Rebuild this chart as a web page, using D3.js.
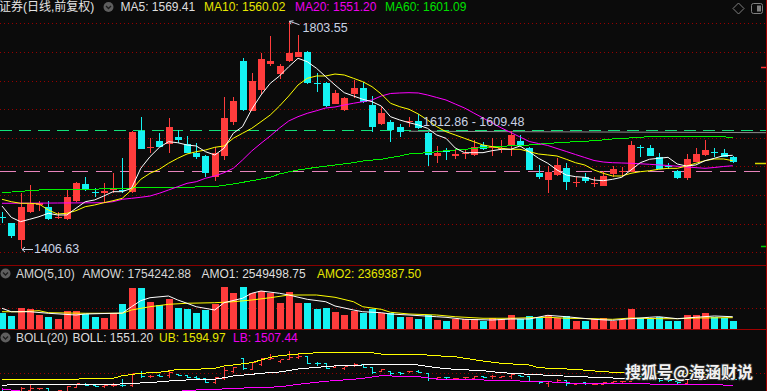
<!DOCTYPE html>
<html>
<head>
<meta charset="utf-8">
<script src="https://cdn.jsdelivr.net/npm/d3@7"></script>
<style>
  body { margin: 0; background: #0b0b0b; overflow: hidden; }
  svg { display: block; font-family: "Liberation Sans", Arial, "Noto Sans CJK SC", sans-serif; }
</style>
</head>
<body>
<svg id="chart"></svg>
<script>
//Daily candles
var opens = [1461.7,1451.7,1422.7,1469.2,1481.4,1479.7,1461.7,1458.2,1490.1,1519.3,
  1504.5,1503.6,1508.0,1508.8,1504.8,1612.4,1582.2,1594.9,1590.4,1600.9,
  1589.2,1572.9,1568.2,1532.1,1567.0,1628.1,1734.7,1647.3,1683.5,1728.9,
  1710.9,1732.9,1741.7,1750.4,1695.7,1696.2,1660.3,1648.6,1677.7,1686.5,
  1657.3,1624.1,1628.1,1619.4,1626.7,1629.9,1607.9,1568.2,1576.4,1567.0,
  1572.9,1570.0,1587.4,1581.7,1580.4,1585.7,1594.4,1581.7,1539.0,1526.3,
  1535.0,1546.7,1521.1,1531.0,1518.4,1516.3,1536.8,1540.3,1540.8,1583.9,
  1581.7,1567.0,1551.3,1542.5,1529.3,1558.3,1570.0,1574.7,1574.0,1565.9];
var highs = [1470.9,1452.0,1503.1,1517.6,1489.6,1489.6,1470.9,1508.8,1522.0,1531.0,
  1512.8,1520.5,1538.0,1564.2,1611.9,1636.9,1599.1,1607.9,1634.1,1613.6,
  1603.1,1590.4,1570.0,1584.5,1670.7,1671.8,1739.9,1712.7,1747.6,1777.8,
  1728.9,1803.55,1779.6,1751.6,1713.7,1698.0,1683.5,1671.2,1701.0,1698.0,
  1673.0,1654.3,1631.1,1624.1,1636.9,1641.1,1610.1,1585.7,1581.7,1578.7,
  1578.7,1596.2,1593.2,1599.1,1596.2,1611.9,1604.9,1583.9,1552.5,1550.7,
  1564.2,1556.5,1531.0,1539.0,1532.1,1542.5,1550.7,1549.5,1594.4,1587.4,
  1587.4,1572.9,1556.5,1543.8,1571.7,1581.7,1596.2,1581.7,1579.9,1568.2];
var lows = [1450.7,1424.5,1406.63,1468.0,1472.7,1456.4,1457.7,1457.0,1488.4,1507.6,
  1496.1,1488.4,1504.1,1503.1,1503.6,1580.4,1572.9,1583.9,1574.0,1590.4,
  1573.5,1562.5,1531.0,1525.1,1561.2,1622.4,1647.3,1646.8,1676.5,1725.4,
  1702.2,1732.4,1740.6,1693.5,1680.5,1653.3,1659.0,1647.5,1669.0,1660.3,
  1610.7,1623.0,1593.2,1600.9,1618.3,1614.9,1550.7,1556.5,1561.2,1562.5,
  1562.5,1569.0,1578.7,1568.2,1574.0,1568.2,1585.7,1543.0,1527.5,1504.1,
  1534.0,1508.8,1514.6,1520.5,1514.6,1515.8,1532.1,1531.0,1540.3,1567.0,
  1567.5,1546.4,1545.0,1528.0,1526.3,1557.7,1568.2,1567.0,1566.5,1556.0];
var closes = [1460.8,1428.5,1479.7,1483.9,1485.6,1459.4,1462.5,1496.1,1521.6,1510.0,
  1503.6,1507.1,1509.7,1507.1,1609.6,1581.7,1583.9,1584.5,1619.4,1594.9,
  1574.0,1565.9,1538.0,1574.0,1634.1,1664.3,1649.8,1699.7,1737.6,1734.7,
  1725.4,1747.6,1750.4,1696.2,1694.5,1655.5,1678.8,1670.0,1687.5,1661.3,
  1618.3,1643.3,1613.6,1610.7,1628.5,1618.3,1570.0,1574.0,1575.2,1571.2,
  1574.0,1584.5,1579.9,1585.7,1582.2,1604.9,1587.4,1543.8,1532.1,1540.8,
  1552.5,1521.6,1522.8,1523.3,1520.2,1533.3,1545.0,1541.5,1587.4,1582.7,
  1568.2,1546.7,1550.2,1531.0,1562.5,1571.7,1578.7,1573.5,1567.0,1556.5];
//Turnover, thousands
var volumes = [3322,2746,4282,3974,2880,2554,2112,3648,3648,3014,
  2554,2362,3322,4992,8122,8122,5434,4800,5952,4282,
  4032,3322,3840,4992,8314,7162,8314,7162,7546,7046,
  5242,7354,5242,5242,4032,4282,3514,2880,3648,3206,
  3974,3206,3206,2554,2554,2112,2880,1920,1728,2112,
  2112,2112,1728,2246,2054,2880,2054,2688,2246,2880,
  2246,2688,1728,1728,2054,2246,1728,1920,4032,2246,
  2054,2438,1728,1728,2880,2880,3322,2554,2246,1728];

//Moving averages
var ma5 = [1480.9,1461.1,1453.5,1457.7,1462.2,1468.1,1465.2,1465.2,1476.9,1488.4,
  1491.4,1498.3,1505.9,1505.9,1511.8,1546.7,1567.0,1583.1,1593.2,1591.4,
  1587.4,1585.7,1575.7,1570.0,1581.7,1607.9,1619.4,1649.8,1674.8,1695.2,
  1708.0,1724.2,1738.9,1732.9,1721.4,1706.7,1692.2,1678.8,1673.0,1667.3,
  1663.1,1655.5,1636.9,1631.1,1626.4,1622.4,1616.6,1604.9,1599.1,1582.2,
  1574.0,1574.0,1574.0,1577.5,1579.9,1579.9,1585.7,1575.7,1564.2,1555.5,
  1543.8,1535.0,1532.1,1531.0,1526.3,1525.1,1527.5,1531.0,1543.8,1556.5,
  1562.5,1564.2,1565.9,1554.2,1550.7,1552.5,1560.0,1564.2,1568.7,1569.41];
var ma10 = [1492.6,1488.4,1485.6,1485.6,1484.4,1473.9,1466.9,1468.1,1472.7,1479.7,
  1482.6,1486.6,1490.1,1494.3,1508.8,1527.5,1538.0,1545.0,1555.5,1564.2,
  1571.7,1575.7,1578.7,1583.4,1585.7,1599.1,1607.9,1616.6,1628.1,1639.8,
  1655.5,1673.0,1692.2,1703.9,1708.0,1708.0,1711.4,1709.7,1703.9,1698.0,
  1689.3,1676.5,1660.3,1654.3,1649.8,1641.6,1631.1,1619.4,1610.7,1604.9,
  1599.1,1593.2,1587.4,1584.5,1581.7,1579.9,1579.9,1575.7,1571.7,1570.0,
  1568.2,1562.5,1556.5,1552.5,1543.8,1538.0,1533.3,1533.3,1538.0,1540.8,
  1542.5,1545.0,1546.7,1546.7,1550.7,1555.5,1560.0,1563.0,1563.0,1560.02];
//[day index, value]
var ma20 = [[0,1485.6],[6,1486.1],[11,1486.6],[12,1488.4],[13,1492.6],[14,1494.3],[15,1496.1],[16,1498.3],
  [17,1503.1],[18,1508.8],[19,1514.6],[20,1520.5],[21,1523.3],[22,1529.3],[23,1533.3],[24,1539.0],
  [25,1546.7],[26,1561.2],[27,1577.0],[28,1590.4],[29,1603.2],[30,1617.1],[31,1629.4],[32,1636.9],
  [33,1642.8],[34,1647.3],[35,1652.1],[36,1653.8],[37,1657.3],[38,1660.3],[39,1663.1],[40,1666.0],
  [41,1673.0],[42,1677.4],[43,1678.3],[44,1678.8],[45,1678.3],[46,1674.8],[47,1670.4],[48,1666.0],
  [49,1659.0],[50,1652.1],[51,1643.3],[52,1634.6],[53,1625.9],[54,1617.1],[55,1609.3],[56,1601.4],
  [57,1593.5],[58,1590.0],[59,1586.6],[60,1581.3],[61,1576.1],[62,1570.8],[63,1565.6],[64,1560.4],
  [65,1557.7],[66,1556.5],[67,1556.0],[68,1555.5],[70,1553.7],[72,1551.6],[74,1549.1],[76,1546.7],
  [77,1548.1],[78,1549.9],[79,1551.20]];
var ma60 = [[0,1504.1],[5,1510.0],[11,1510.6],[12,1511.8],[23,1514.6],[25,1519.3],[27,1525.0],[29,1531.0],
  [30,1537.0],[32,1543.8],[34,1548.5],[36,1552.5],[38,1556.5],[39,1559.5],[41,1562.5],[43,1568.2],
  [44,1571.7],[46,1574.0],[48,1577.5],[50,1579.9],[53,1584.5],[57,1587.4],[60,1591.4],[62,1593.2],
  [64,1594.9],[66,1597.9],[69,1600.9],[71,1603.1],[77,1601.9],[79,1601.09]];

//Turnover averages, thousands
var amo1 = [[0,4170],[1,3510],[3,3510],[5,3210],[8,2880],[9,3070],[12,3210],[13,3250],[14,4470],[15,5630],
  [16,6200],[18,6530],[19,5760],[20,5130],[21,4470],[23,3840],[24,5240],[26,6090],[27,7050],[28,7490],
  [30,7050],[31,6720],[33,5890],[35,5430],[36,4610],[38,3840],[39,3510],[41,3320],[42,3070],[44,2880],
  [47,2550],[48,2440],[50,2050],[53,1920],[55,2110],[57,2110],[59,2820],[61,2550],[64,2050],[66,1860],
  [68,2170],[70,2440],[71,2550],[73,2170],[75,2440],[77,2690],[79,2549]];
var amo2 = [[0,3510],[2,3510],[4,3710],[5,3320],[9,3210],[13,3210],[14,3840],[16,4470],[18,4930],[20,5130],
  [23,5240],[25,5430],[27,5760],[29,6200],[31,6720],[34,6720],[36,6280],[38,5430],[39,4470],[41,3970],
  [42,3400],[44,3070],[47,2880],[49,2550],[52,2250],[55,2250],[59,2440],[61,2250],[64,2170],[66,2050],
  [68,2300],[71,2170],[73,2170],[75,2300],[79,2369]];

//Bollinger bands
var bollUp = [[0,1557],[8,1557],[9,1565],[12,1565],[13,1587],[15,1608],[17,1616],[18,1627],[19,1642],[21,1642],
  [23,1650],[24,1670],[25,1678],[27,1698],[28,1720],[29,1743],[30,1757],[32,1771],[33,1777],[35,1786],
  [40,1782],[41,1771],[43,1763],[45,1769],[47,1756],[49,1748],[50,1735],[52,1712],[54,1692],[57,1678],
  [58,1655],[62,1641],[65,1621],[67,1613],[79,1594.97]];
var bollMid = [[0,1508],[13,1517],[14,1523],[16,1528],[17,1536],[18,1542],[20,1551],[23,1557],[24,1570],[25,1585],
  [27,1599],[28,1608],[30,1619],[31,1630],[32,1644],[34,1658],[36,1670],[39,1678],[42,1684],[45,1678],
  [47,1655],[49,1641],[52,1630],[54,1613],[57,1599],[60,1587],[64,1574],[67,1565],[79,1551.20]];
var bollLow = [[0,1475],[4,1440],[12,1430],[18,1450],[21,1466],[24,1475],[25,1481],[28,1486],[30,1494],[31,1503],
  [32,1514],[33,1523],[34,1531],[35,1540],[38,1557],[39,1565],[41,1587],[45,1579],[47,1559],[52,1551],
  [59,1536],[62,1523],[66,1523],[72,1514],[79,1507.44]];

//Reference levels and labels
var priceGrid = [1400, 1450, 1500, 1550, 1600, 1650, 1700, 1750, 1800];
var levelGreen = 1612.86, levelPink = 1541.5, rangeEnd = 1609.48;
var volGrid = 4280, bollGrid = 1607.6;
var edgeMarks = [1723.1, 1555.5, 1410.5];
var titleText = "证券(日线,前复权)";
var amoLabels = ["AMO(5,10)", "AMOW: 1754242.88", "AMO1: 2549498.75", "AMO2: 2369387.50"];
var bollLabels = ["BOLL(20)", "BOLL: 1551.20", "UB: 1594.97", "LB: 1507.44"];
var watermark = "搜狐号@海涵财说";

var RED = "#ff3c3c", CYAN = "#14f2f2", GRID = "#960000";

var W = 767, H = 391;
var svg = d3.select("#chart").attr("width", W).attr("height", H);
svg.append("rect").attr("width", W).attr("height", H).attr("fill", "#0b0b0b");

//Scales
var x = d3.scaleLinear().domain([0, 79]).range([2, 732.75]);
var yPrice = d3.scaleLinear().domain([1400, 1800]).range([252.3, 23.3]);
var yVol = d3.scaleLinear().domain([0, 12480]).range([330, 265]);
var yBoll = d3.scaleLinear().domain([1400, 1800]).range([397.8, 350.6]);

var candles = opens.map(function(o, i) {
  return {i: i, o: o, h: highs[i], l: lows[i], c: closes[i], v: volumes[i]};
});
function col(d) { return d.c >= d.o ? RED : CYAN; }
function cx(d) { return Math.round(x(d.i)) + 0.5; }
function px(v) { return Math.round(v) + 0.5; }

//Gridlines
function hLine(g, yv, color, dash, x1) {
  g.append("line").attr("x1", x1 || 0).attr("x2", 766).attr("y1", px(yv)).attr("y2", px(yv))
    .attr("stroke", color).attr("stroke-dasharray", dash).attr("shape-rendering", "crispEdges");
}
var grid = svg.append("g");
priceGrid.forEach(function(p) { hLine(grid, yPrice(p), GRID, "1,3"); });
hLine(grid, yVol(volGrid), GRID, "1,3");
hLine(grid, yBoll(bollGrid), GRID, "1,3");

//Panel borders
var borders = svg.append("g").attr("shape-rendering", "crispEdges");
borders.append("line").attr("x1", 0).attr("x2", 767).attr("y1", 265.5).attr("y2", 265.5).attr("stroke", "#8a0000");
borders.append("line").attr("x1", 766.5).attr("x2", 766.5).attr("y1", 0).attr("y2", H).attr("stroke", "#a00000");

//Level lines
svg.append("line")
  .attr("x1", x(44)).attr("x2", 766)
  .attr("y1", yPrice(levelGreen) + 0.8).attr("y2", yPrice(rangeEnd) + 0.3)
  .attr("stroke", "#8c8c8c");
hLine(svg, yPrice(levelGreen), "#12e27a", "12,7");
hLine(svg, yPrice(levelPink), "#e884bc", "16,8");

//Candles
var gC = svg.append("g").attr("shape-rendering", "crispEdges");
gC.selectAll("line").data(candles).enter().append("line")
  .attr("x1", cx).attr("x2", cx)
  .attr("y1", function(d) { return yPrice(d.h); })
  .attr("y2", function(d) { return yPrice(d.l); })
  .attr("stroke", col);
gC.selectAll("rect").data(candles).enter().append("rect")
  .attr("x", function(d) { return Math.round(x(d.i)) - 3; })
  .attr("width", 7)
  .attr("y", function(d) { return Math.round(yPrice(Math.max(d.o, d.c))); })
  .attr("height", function(d) { return Math.max(1, Math.round(Math.abs(yPrice(d.o) - yPrice(d.c)))); })
  .attr("fill", col);

//Line helpers
function lineIdx(ys) {
  return d3.line().x(function(d, i) { return x(i); }).y(function(d) { return ys(d); });
}
function linePair(ys) {
  return d3.line().x(function(d) { return x(d[0]); }).y(function(d) { return ys(d[1]); });
}
function drawLine(data, gen, color, crisp) {
  svg.append("path").datum(data).attr("d", gen)
    .attr("fill", "none").attr("stroke", color).attr("stroke-width", 1)
    .attr("shape-rendering", crisp ? "crispEdges" : null);
}
drawLine(ma60, linePair(yPrice), "#00f000", true);
drawLine(ma20, linePair(yPrice), "#ff00ff");
drawLine(ma10, lineIdx(yPrice), "#ffff00");
drawLine(ma5, lineIdx(yPrice), "#ffffff");

//Right edge marks
var markColors = ["#ff3030", "#d8d800", "#00c800"], markLen = [5, 11, 5];
edgeMarks.forEach(function(p, k) {
  svg.append("line").attr("x1", 766 - markLen[k]).attr("x2", 766)
    .attr("y1", px(yPrice(p))).attr("y2", px(yPrice(p)))
    .attr("stroke", markColors[k]).attr("stroke-width", 1.5);
});

//High / low annotations
var hi = candles[31], lo = candles[2], annColor = "#c9d2e4";
svg.append("path")
  .attr("d", "M" + cx(hi) + "," + yPrice(hi.h) + " l10,3.5 M" + cx(hi) + "," + yPrice(hi.h) + " l4,-0.5 M" + cx(hi) + "," + yPrice(hi.h) + " l1.5,3")
  .attr("stroke", annColor).attr("fill", "none");
svg.append("text").attr("x", cx(hi) + 13).attr("y", yPrice(hi.h) + 10.5)
  .attr("fill", annColor).style("font-size", "12.5px").text(d3.format(".2f")(hi.h));
svg.append("path")
  .attr("d", "M" + (cx(lo) + 0.5) + "," + px(yPrice(lo.l)) + " h11 M" + (cx(lo) + 0.5) + "," + px(yPrice(lo.l)) + " l3,-2.5 M" + (cx(lo) + 0.5) + "," + px(yPrice(lo.l)) + " l3,2.5")
  .attr("stroke", annColor).attr("fill", "none");
svg.append("text").attr("x", cx(lo) + 12.5).attr("y", yPrice(lo.l) + 4.5)
  .attr("fill", annColor).style("font-size", "12.5px").text(d3.format(".2f")(lo.l));
svg.append("text").attr("x", 423).attr("y", yPrice(levelGreen) - 4)
  .attr("fill", annColor).style("font-size", "12.5px")
  .text(d3.format(".2f")(levelGreen) + " - " + d3.format(".2f")(rangeEnd));

//Volume bars
var gV = svg.append("g").attr("shape-rendering", "crispEdges");
gV.selectAll("rect").data(candles).enter().append("rect")
  .attr("x", function(d) { return Math.round(x(d.i)) - 3; })
  .attr("width", 7)
  .attr("y", function(d) { return Math.round(yVol(d.v)); })
  .attr("height", function(d) { return 330 - Math.round(yVol(d.v)); })
  .attr("fill", col);
drawLine(amo2, linePair(yVol), "#ffff00");
drawLine(amo1, linePair(yVol), "#ffffff");
borders.append("line").attr("x1", 0).attr("x2", 767).attr("y1", 329.5).attr("y2", 329.5).attr("stroke", "#a00000");
svg.node().appendChild(borders.node());

//BOLL panel
svg.append("clipPath").attr("id", "bollClip").append("rect")
  .attr("x", 0).attr("y", 331).attr("width", 766).attr("height", 70);
var gB = svg.append("g").attr("clip-path", "url(#bollClip)");
gB.selectAll("path.bar").data(candles).enter().append("path")
  .attr("d", function(d) {
    var c = cx(d);
    return "M" + c + "," + px(yBoll(d.h)) + "V" + px(yBoll(d.l)) +
      "M" + (c - 3) + "," + px(yBoll(d.o)) + "H" + c +
      "M" + c + "," + px(yBoll(d.c)) + "H" + (c + 3);
  })
  .attr("stroke", col).attr("fill", "none").attr("shape-rendering", "crispEdges");
[[bollUp, "#ffff00"], [bollMid, "#ffffff"], [bollLow, "#ff00ff"]].forEach(function(b) {
  gB.append("path").datum(b[0]).attr("d", linePair(yBoll))
    .attr("fill", "none").attr("stroke", b[1]).attr("shape-rendering", "crispEdges");
});

//Header texts
function icon(cxp, cyp) {
  svg.append("circle").attr("cx", cxp).attr("cy", cyp).attr("r", 5).attr("fill", "#5e5e5e");
  svg.append("path").attr("d", "M" + (cxp - 2.5) + "," + (cyp - 1) + " l2.5,2.5 l2.5,-2.5")
    .attr("stroke", "#1c1c1c").attr("stroke-width", 1.3).attr("fill", "none");
}
function label(t, xp, yp, color) {
  svg.append("text").attr("x", xp).attr("y", yp).attr("fill", color).style("font-size", "12px").text(t);
}
label(titleText, -1, 11, "#e4e4e4");
icon(108.5, 7);
label("MA5: " + d3.format(".2f")(ma5[79]), 120.5, 11, "#dedede");
label("MA10: " + d3.format(".2f")(ma10[79]), 204, 11, "#e6e600");
label("MA20: " + d3.format(".2f")(ma20[ma20.length - 1][1]), 295, 11, "#ee00ee");
label("MA60: " + d3.format(".2f")(ma60[ma60.length - 1][1]), 385, 11, "#00e000");

icon(5.5, 273.5);
var amoX = [16, 82.5, 201.5, 317], amoCol = ["#d6d6d6", "#d6d6d6", "#dedede", "#e6e600"];
amoLabels.forEach(function(t, k) { label(t, amoX[k], 277.5, amoCol[k]); });

icon(5.5, 337.5);
var bollX = [16, 72.5, 159, 233], bollCol = ["#d6d6d6", "#dedede", "#e6e600", "#ee00ee"];
bollLabels.forEach(function(t, k) { label(t, bollX[k], 341.8, bollCol[k]); });

//Top-right icons
svg.append("path").attr("d", "M738.5,3 L744,8.5 L738.5,14 L733,8.5 Z")
  .attr("fill", "none").attr("stroke", "#808080");
svg.append("rect").attr("x", 751.5).attr("y", 3.5).attr("width", 11).attr("height", 10).attr("rx", 2)
  .attr("fill", "none").attr("stroke", "#808080");
svg.append("rect").attr("x", 757).attr("y", 5.5).attr("width", 4).attr("height", 6).attr("fill", "#808080");

//Watermark
svg.append("text").attr("x", 625).attr("y", 377.5)
  .attr("fill", "#f2f2f2").attr("stroke", "#2a2a2a").attr("stroke-width", 2)
  .attr("paint-order", "stroke")
  .style("font-family", "'Noto Sans CJK SC', sans-serif")
  .style("font-size", "16px").style("font-weight", "bold")
  .text(watermark);
</script>
</body>
</html>
